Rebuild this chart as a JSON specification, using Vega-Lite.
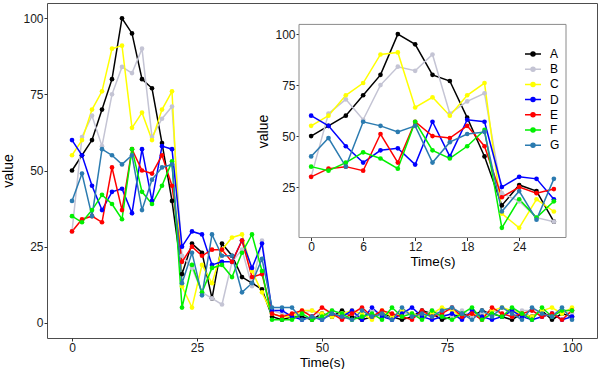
{
"$schema": "https://vega.github.io/schema/vega-lite/v6.json",
"width": 550, "height": 335,
"autosize": {"type": "none"},
"padding": {"left": 47, "top": 3, "right": 3, "bottom": 31},
"config": {
 "view": {"stroke": "#4d4d4d", "strokeWidth": 1},
 "font": "Liberation Sans",
 "axis": {"grid": false, "domain": false, "tickColor": "#333333", "tickSize": 3, "labelColor": "#1a1a1a", "labelFontSize": 12, "titleFontSize": 14, "titleFontWeight": "normal", "titleColor": "#000000", "labelPadding": 1}
},
"data": {"values": [
{"s":"A","t":0,"v":50},{"s":"A","t":2,"v":55},{"s":"A","t":4,"v":60},{"s":"A","t":6,"v":70},{"s":"A","t":8,"v":80},{"s":"A","t":10,"v":100},{"s":"A","t":12,"v":95},{"s":"A","t":14,"v":80},{"s":"A","t":16,"v":77},{"s":"A","t":18,"v":59},{"s":"A","t":20,"v":40},{"s":"A","t":22,"v":16},{"s":"A","t":24,"v":26},{"s":"A","t":26,"v":23},{"s":"A","t":28,"v":8},{"s":"A","t":30,"v":26},{"s":"A","t":32,"v":22},{"s":"A","t":34,"v":15},{"s":"A","t":36,"v":13},{"s":"A","t":38,"v":11},{"s":"A","t":40,"v":2},{"s":"A","t":42,"v":1},{"s":"A","t":44,"v":2},{"s":"A","t":46,"v":2},{"s":"A","t":48,"v":1},{"s":"A","t":50,"v":3},{"s":"A","t":52,"v":2},{"s":"A","t":54,"v":4},{"s":"A","t":56,"v":2},{"s":"A","t":58,"v":1},{"s":"A","t":60,"v":2},{"s":"A","t":62,"v":3},{"s":"A","t":64,"v":2},{"s":"A","t":66,"v":1},{"s":"A","t":68,"v":2},{"s":"A","t":70,"v":4},{"s":"A","t":72,"v":3},{"s":"A","t":74,"v":1},{"s":"A","t":76,"v":2},{"s":"A","t":78,"v":3},{"s":"A","t":80,"v":2},{"s":"A","t":82,"v":4},{"s":"A","t":84,"v":3},{"s":"A","t":86,"v":2},{"s":"A","t":88,"v":1},{"s":"A","t":90,"v":3},{"s":"A","t":92,"v":2},{"s":"A","t":94,"v":4},{"s":"A","t":96,"v":1},{"s":"A","t":98,"v":3},{"s":"A","t":100,"v":2},
{"s":"B","t":0,"v":30},{"s":"B","t":2,"v":61},{"s":"B","t":4,"v":68},{"s":"B","t":6,"v":58},{"s":"B","t":8,"v":75},{"s":"B","t":10,"v":84},{"s":"B","t":12,"v":82},{"s":"B","t":14,"v":90},{"s":"B","t":16,"v":61},{"s":"B","t":18,"v":67},{"s":"B","t":20,"v":71},{"s":"B","t":22,"v":22},{"s":"B","t":24,"v":18},{"s":"B","t":26,"v":10},{"s":"B","t":28,"v":8},{"s":"B","t":30,"v":6},{"s":"B","t":32,"v":20},{"s":"B","t":34,"v":24},{"s":"B","t":36,"v":12},{"s":"B","t":38,"v":27},{"s":"B","t":40,"v":4},{"s":"B","t":42,"v":3},{"s":"B","t":44,"v":2},{"s":"B","t":46,"v":3},{"s":"B","t":48,"v":4},{"s":"B","t":50,"v":2},{"s":"B","t":52,"v":4},{"s":"B","t":54,"v":3},{"s":"B","t":56,"v":3},{"s":"B","t":58,"v":2},{"s":"B","t":60,"v":4},{"s":"B","t":62,"v":3},{"s":"B","t":64,"v":1},{"s":"B","t":66,"v":3},{"s":"B","t":68,"v":3},{"s":"B","t":70,"v":2},{"s":"B","t":72,"v":4},{"s":"B","t":74,"v":3},{"s":"B","t":76,"v":2},{"s":"B","t":78,"v":4},{"s":"B","t":80,"v":2},{"s":"B","t":82,"v":3},{"s":"B","t":84,"v":4},{"s":"B","t":86,"v":3},{"s":"B","t":88,"v":2},{"s":"B","t":90,"v":4},{"s":"B","t":92,"v":4},{"s":"B","t":94,"v":2},{"s":"B","t":96,"v":3},{"s":"B","t":98,"v":4},{"s":"B","t":100,"v":3},
{"s":"C","t":0,"v":55},{"s":"C","t":2,"v":60},{"s":"C","t":4,"v":70},{"s":"C","t":6,"v":76},{"s":"C","t":8,"v":90},{"s":"C","t":10,"v":91},{"s":"C","t":12,"v":64},{"s":"C","t":14,"v":69},{"s":"C","t":16,"v":60},{"s":"C","t":18,"v":70},{"s":"C","t":20,"v":76},{"s":"C","t":22,"v":12},{"s":"C","t":24,"v":5},{"s":"C","t":26,"v":19},{"s":"C","t":28,"v":13},{"s":"C","t":30,"v":24},{"s":"C","t":32,"v":28},{"s":"C","t":34,"v":29},{"s":"C","t":36,"v":17},{"s":"C","t":38,"v":10},{"s":"C","t":40,"v":3},{"s":"C","t":42,"v":2},{"s":"C","t":44,"v":2},{"s":"C","t":46,"v":4},{"s":"C","t":48,"v":4},{"s":"C","t":50,"v":3},{"s":"C","t":52,"v":2},{"s":"C","t":54,"v":3},{"s":"C","t":56,"v":4},{"s":"C","t":58,"v":3},{"s":"C","t":60,"v":1},{"s":"C","t":62,"v":4},{"s":"C","t":64,"v":2},{"s":"C","t":66,"v":4},{"s":"C","t":68,"v":3},{"s":"C","t":70,"v":2},{"s":"C","t":72,"v":3},{"s":"C","t":74,"v":5},{"s":"C","t":76,"v":4},{"s":"C","t":78,"v":2},{"s":"C","t":80,"v":3},{"s":"C","t":82,"v":2},{"s":"C","t":84,"v":4},{"s":"C","t":86,"v":5},{"s":"C","t":88,"v":4},{"s":"C","t":90,"v":3},{"s":"C","t":92,"v":2},{"s":"C","t":94,"v":4},{"s":"C","t":96,"v":5},{"s":"C","t":98,"v":3},{"s":"C","t":100,"v":5},
{"s":"D","t":0,"v":60},{"s":"D","t":2,"v":55},{"s":"D","t":4,"v":45},{"s":"D","t":6,"v":37},{"s":"D","t":8,"v":43},{"s":"D","t":10,"v":44},{"s":"D","t":12,"v":36},{"s":"D","t":14,"v":57},{"s":"D","t":16,"v":40},{"s":"D","t":18,"v":58},{"s":"D","t":20,"v":57},{"s":"D","t":22,"v":25},{"s":"D","t":24,"v":30},{"s":"D","t":26,"v":29},{"s":"D","t":28,"v":19},{"s":"D","t":30,"v":20},{"s":"D","t":32,"v":20},{"s":"D","t":34,"v":27},{"s":"D","t":36,"v":18},{"s":"D","t":38,"v":26},{"s":"D","t":40,"v":4},{"s":"D","t":42,"v":4},{"s":"D","t":44,"v":2},{"s":"D","t":46,"v":1},{"s":"D","t":48,"v":2},{"s":"D","t":50,"v":1},{"s":"D","t":52,"v":3},{"s":"D","t":54,"v":2},{"s":"D","t":56,"v":4},{"s":"D","t":58,"v":1},{"s":"D","t":60,"v":5},{"s":"D","t":62,"v":2},{"s":"D","t":64,"v":1},{"s":"D","t":66,"v":3},{"s":"D","t":68,"v":5},{"s":"D","t":70,"v":2},{"s":"D","t":72,"v":1},{"s":"D","t":74,"v":2},{"s":"D","t":76,"v":3},{"s":"D","t":78,"v":1},{"s":"D","t":80,"v":4},{"s":"D","t":82,"v":2},{"s":"D","t":84,"v":1},{"s":"D","t":86,"v":2},{"s":"D","t":88,"v":4},{"s":"D","t":90,"v":2},{"s":"D","t":92,"v":1},{"s":"D","t":94,"v":2},{"s":"D","t":96,"v":3},{"s":"D","t":98,"v":1},{"s":"D","t":100,"v":2},
{"s":"E","t":0,"v":30},{"s":"E","t":2,"v":34},{"s":"E","t":4,"v":35},{"s":"E","t":6,"v":33},{"s":"E","t":8,"v":51},{"s":"E","t":10,"v":37},{"s":"E","t":12,"v":57},{"s":"E","t":14,"v":50},{"s":"E","t":16,"v":49},{"s":"E","t":18,"v":55},{"s":"E","t":20,"v":45},{"s":"E","t":22,"v":20},{"s":"E","t":24,"v":25},{"s":"E","t":26,"v":22},{"s":"E","t":28,"v":24},{"s":"E","t":30,"v":24},{"s":"E","t":32,"v":20},{"s":"E","t":34,"v":27},{"s":"E","t":36,"v":15},{"s":"E","t":38,"v":16},{"s":"E","t":40,"v":3},{"s":"E","t":42,"v":2},{"s":"E","t":44,"v":3},{"s":"E","t":46,"v":4},{"s":"E","t":48,"v":2},{"s":"E","t":50,"v":5},{"s":"E","t":52,"v":3},{"s":"E","t":54,"v":1},{"s":"E","t":56,"v":3},{"s":"E","t":58,"v":5},{"s":"E","t":60,"v":2},{"s":"E","t":62,"v":4},{"s":"E","t":64,"v":3},{"s":"E","t":66,"v":2},{"s":"E","t":68,"v":1},{"s":"E","t":70,"v":4},{"s":"E","t":72,"v":2},{"s":"E","t":74,"v":3},{"s":"E","t":76,"v":5},{"s":"E","t":78,"v":2},{"s":"E","t":80,"v":3},{"s":"E","t":82,"v":1},{"s":"E","t":84,"v":5},{"s":"E","t":86,"v":3},{"s":"E","t":88,"v":2},{"s":"E","t":90,"v":3},{"s":"E","t":92,"v":4},{"s":"E","t":94,"v":2},{"s":"E","t":96,"v":3},{"s":"E","t":98,"v":1},{"s":"E","t":100,"v":4},
{"s":"F","t":0,"v":35},{"s":"F","t":2,"v":33},{"s":"F","t":4,"v":37},{"s":"F","t":6,"v":42},{"s":"F","t":8,"v":39},{"s":"F","t":10,"v":34},{"s":"F","t":12,"v":57},{"s":"F","t":14,"v":43},{"s":"F","t":16,"v":39},{"s":"F","t":18,"v":45},{"s":"F","t":20,"v":53},{"s":"F","t":22,"v":5},{"s":"F","t":24,"v":19},{"s":"F","t":26,"v":10},{"s":"F","t":28,"v":18},{"s":"F","t":30,"v":19},{"s":"F","t":32,"v":15},{"s":"F","t":34,"v":23},{"s":"F","t":36,"v":29},{"s":"F","t":38,"v":17},{"s":"F","t":40,"v":1},{"s":"F","t":42,"v":1},{"s":"F","t":44,"v":1},{"s":"F","t":46,"v":3},{"s":"F","t":48,"v":1},{"s":"F","t":50,"v":2},{"s":"F","t":52,"v":4},{"s":"F","t":54,"v":3},{"s":"F","t":56,"v":1},{"s":"F","t":58,"v":2},{"s":"F","t":60,"v":3},{"s":"F","t":62,"v":1},{"s":"F","t":64,"v":5},{"s":"F","t":66,"v":2},{"s":"F","t":68,"v":3},{"s":"F","t":70,"v":1},{"s":"F","t":72,"v":4},{"s":"F","t":74,"v":2},{"s":"F","t":76,"v":1},{"s":"F","t":78,"v":3},{"s":"F","t":80,"v":5},{"s":"F","t":82,"v":1},{"s":"F","t":84,"v":3},{"s":"F","t":86,"v":2},{"s":"F","t":88,"v":5},{"s":"F","t":90,"v":3},{"s":"F","t":92,"v":1},{"s":"F","t":94,"v":5},{"s":"F","t":96,"v":2},{"s":"F","t":98,"v":4},{"s":"F","t":100,"v":4},
{"s":"G","t":0,"v":40},{"s":"G","t":2,"v":49},{"s":"G","t":4,"v":35},{"s":"G","t":6,"v":57},{"s":"G","t":8,"v":55},{"s":"G","t":10,"v":52},{"s":"G","t":12,"v":55},{"s":"G","t":14,"v":37},{"s":"G","t":16,"v":47},{"s":"G","t":18,"v":51},{"s":"G","t":20,"v":52},{"s":"G","t":22,"v":13},{"s":"G","t":24,"v":23},{"s":"G","t":26,"v":9},{"s":"G","t":28,"v":29},{"s":"G","t":30,"v":22},{"s":"G","t":32,"v":22},{"s":"G","t":34,"v":10},{"s":"G","t":36,"v":13},{"s":"G","t":38,"v":21},{"s":"G","t":40,"v":5},{"s":"G","t":42,"v":5},{"s":"G","t":44,"v":5},{"s":"G","t":46,"v":1},{"s":"G","t":48,"v":2},{"s":"G","t":50,"v":1},{"s":"G","t":52,"v":3},{"s":"G","t":54,"v":2},{"s":"G","t":56,"v":1},{"s":"G","t":58,"v":4},{"s":"G","t":60,"v":2},{"s":"G","t":62,"v":3},{"s":"G","t":64,"v":1},{"s":"G","t":66,"v":5},{"s":"G","t":68,"v":2},{"s":"G","t":70,"v":3},{"s":"G","t":72,"v":2},{"s":"G","t":74,"v":4},{"s":"G","t":76,"v":5},{"s":"G","t":78,"v":3},{"s":"G","t":80,"v":1},{"s":"G","t":82,"v":4},{"s":"G","t":84,"v":2},{"s":"G","t":86,"v":5},{"s":"G","t":88,"v":3},{"s":"G","t":90,"v":1},{"s":"G","t":92,"v":5},{"s":"G","t":94,"v":3},{"s":"G","t":96,"v":2},{"s":"G","t":98,"v":5},{"s":"G","t":100,"v":1}
]},
"layer": [
 {
  "encoding": {
   "x": {"field": "t", "type": "quantitative", "scale": {"domain": [-5, 105], "nice": false, "zero": false}, "axis": {"orient": "bottom", "values": [0, 25, 50, 75, 100], "title": "Time(s)", "titlePadding": 2, "titleFontSize": 13.5}},
   "y": {"field": "v", "type": "quantitative", "scale": {"domain": [-5, 105], "nice": false, "zero": false}, "axis": {"orient": "left", "values": [0, 25, 50, 75, 100], "title": "value", "titlePadding": 7}},
   "color": {"field": "s", "type": "nominal",
     "scale": {"domain": ["A","B","C","D","E","F","G"], "range": ["#000000","#c4c4d4","#ffff00","#0000ff","#ff0000","#00f000","#2b7bb0"]},
     "legend": {"orient": "none", "legendX": 477, "legendY": 42, "title": null, "padding": 0,
       "symbolType": "M-1,0L1,0M0.25,0A0.25,0.25,0,1,1,-0.25,0A0.25,0.25,0,1,1,0.25,0Z",
       "symbolSize": 256, "symbolStrokeWidth": 1.5, "labelFontSize": 12, "labelColor": "#000000", "labelOffset": 8, "rowPadding": 0.2,
       "encode": {"symbols": {"update": {"fill": {"scale": "color", "field": "value"}, "fillOpacity": {"value": 1}}}}}
   }
  },
  "layer": [
   {"mark": {"type": "line", "strokeWidth": 1.5}},
   {"mark": {"type": "point", "filled": true, "size": 22, "opacity": 1}}
  ]
 },
 {
  "layer": [
   {"data": {"values": [{}]}, "mark": {"type": "rect", "fill": "white", "stroke": "#8a8a8a", "strokeWidth": 1},
    "encoding": {"x": {"datum": -1.4, "type": "quantitative"}, "x2": {"datum": 29.4}, "y": {"datum": 0.25, "type": "quantitative"}, "y2": {"datum": 104.75}}},
   {"transform": [{"filter": "datum.t <= 28"}], "mark": {"type": "line", "strokeWidth": 1.5},
    "encoding": {
     "x": {"field": "t", "type": "quantitative", "scale": {"domain": [-1.4, 29.4], "range": [252, 519], "nice": false, "zero": false}, "axis": {"orient": "bottom", "offset": -100.5, "values": [0, 6, 12, 18, 24], "title": "Time(s)", "titlePadding": 2, "titleFontSize": 13.5}},
     "y": {"field": "v", "type": "quantitative", "scale": {"domain": [0.25, 104.75], "range": [234.5, 21.4], "nice": false, "zero": false}, "axis": {"orient": "left", "offset": -252, "values": [25, 50, 75, 100], "title": "value", "titlePadding": 4}},
     "color": {"field": "s", "type": "nominal"}
    }},
   {"transform": [{"filter": "datum.t <= 28"}], "mark": {"type": "point", "filled": true, "size": 22, "opacity": 1},
    "encoding": {
     "x": {"field": "t", "type": "quantitative"},
     "y": {"field": "v", "type": "quantitative"},
     "color": {"field": "s", "type": "nominal"}
    }}
  ]
 }
],
"resolve": {"scale": {"x": "independent", "y": "independent"}}
}
